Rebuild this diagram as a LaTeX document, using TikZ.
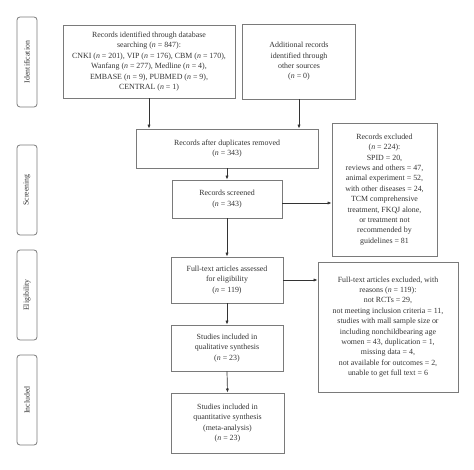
\documentclass[tikz,border=0pt]{standalone}
\usepackage{fontspec}
\setmainfont{Liberation Serif}
\usetikzlibrary{arrows.meta}
\definecolor{boxgray}{HTML}{7A7A7A}
\definecolor{txtgray}{HTML}{333333}
\newcommand{\nn}{\textit{n}}
\begin{document}
\begin{tikzpicture}[x=1pt,y=-1pt,
  box/.style={draw=boxgray,line width=0.8pt,align=center,inner sep=1pt,
    font=\fontsize{7.9}{10.4}\selectfont,text=txtgray},
  side/.style={draw=boxgray,line width=0.8pt,rounded corners=3pt,minimum width=20pt,
    minimum height=90pt,inner sep=0pt},
  sidetxt/.style={rotate=90,font=\fontsize{7.8}{9}\selectfont,text=txtgray},
  arr/.style={draw=txtgray,line width=0.7pt,-{Latex[length=4pt,width=3.2pt]}}]
\useasboundingbox (0,0) rectangle (474,470);
% side labels
\node[side] (s1) at (27,62) {};
\node[sidetxt] (t1) at (s1.center) {Identification};
\node[side] (s2) at (27,190) {};
\node[sidetxt] (t2) at (s2.center) {Screening};
\node[side] (s3) at (27,295) {};
\node[sidetxt] (t3) at (s3.center) {Eligibility};
\node[side] (s4) at (27,400) {};
\node[sidetxt] (t4) at (s4.center) {Included};
% boxes
\node[box,minimum width=172pt,minimum height=73pt] (db) at (149,61.5)
 {Records identified through database\\searching (\nn{} = 847):\\CNKI (\nn{} = 201), VIP (\nn{} = 176), CBM (\nn{} = 170),\\Wanfang (\nn{} = 277), Medline (\nn{} = 4),\\EMBASE (\nn{} = 9), PUBMED (\nn{} = 9),\\CENTRAL (\nn{} = 1)};
\node[box,minimum width=113pt,minimum height=75pt] (add) at (299,61.5)
 {Additional records\\identified through\\other sources\\(\nn{} = 0)};
\node[box,minimum width=182pt,minimum height=39pt] (dup) at (227,148.5)
 {Records after duplicates removed\\(\nn{} = 343)};
\node[box,minimum width=110pt,minimum height=38pt] (scr) at (227,199)
 {Records screened\\(\nn{} = 343)};
\node[box,minimum width=105pt,minimum height=133pt] (ex1) at (384.5,189.5)
 {Records excluded\\(\nn{} = 224):\\SPID = 20,\\reviews and others = 47,\\animal experiment = 52,\\with other diseases = 24,\\TCM comprehensive\\treatment, FKQJ alone,\\or treatment not\\recommended by\\guidelines = 81};
\node[box,minimum width=112pt,minimum height=46pt] (ft) at (227,280)
 {Full-text articles assessed\\for eligibility\\(\nn{} = 119)};
\node[box,minimum width=140pt,minimum height=130pt] (ex2) at (388,327)
 {Full-text articles excluded, with\\reasons (\nn{} = 119):\\not RCTs = 29,\\not meeting inclusion criteria = 11,\\studies with mall sample size or\\including nonchildbearing age\\women = 43, duplication = 1,\\missing data = 4,\\not available for outcomes = 2,\\unable to get full text = 6};
\node[box,minimum width=112pt,minimum height=46pt] (qual) at (227,348)
 {Studies included in\\qualitative synthesis\\(\nn{} = 23)};
\node[box,minimum width=113pt,minimum height=60pt] (quant) at (227.5,423)
 {Studies included in\\quantitative synthesis\\(meta-analysis)\\(\nn{} = 23)};
% arrows
\draw[arr] (db.south) -- (db.south |- dup.north);
\draw[arr] (add.south) -- (add.south |- dup.north);
\draw[arr] (dup.south) -- (scr.north);
\draw[arr] ([yshift=-4pt]scr.east) -- ([yshift=-4pt]scr.east -| ex1.west);
\draw[arr] (scr.south) -- (ft.north);
\draw[arr] (ft.east) -- (ft.east -| ex2.west);
\draw[arr] (ft.south) -- (qual.north);
\draw[arr] (qual.south) -- (quant.north);
\end{tikzpicture}
\end{document}
